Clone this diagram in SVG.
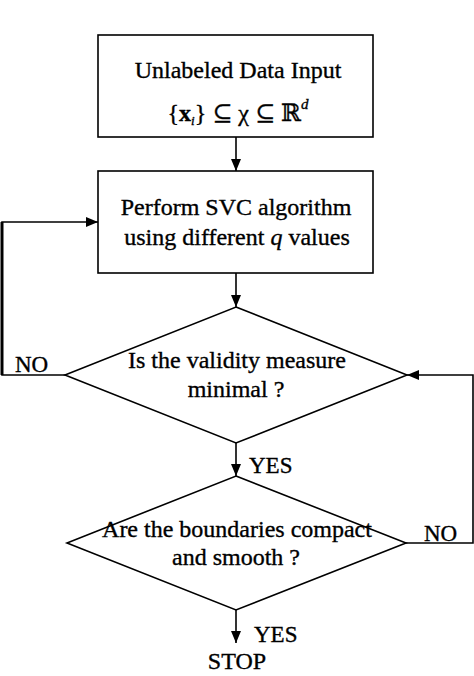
<svg xmlns="http://www.w3.org/2000/svg" width="474" height="676" viewBox="0 0 474 676">
<style>
.box{fill:#fff;stroke:#000;stroke-width:1.6}
.t{font-family:'Liberation Serif','Times New Roman',Tinos,'DejaVu Serif',serif;font-size:24px;fill:#000;stroke:#000;stroke-width:0.35;text-anchor:middle}
.lbl{font-family:'Liberation Serif','Times New Roman',Tinos,'DejaVu Serif',serif;font-size:23px;fill:#000;stroke:#000;stroke-width:0.35}
.c{fill:none;stroke:#000;stroke-width:1.6}
</style>
<defs>
<marker id="ah" viewBox="0 0 12 10" refX="12" refY="5" markerWidth="12" markerHeight="10" markerUnits="userSpaceOnUse" orient="auto">
<path d="M0,0 L12,5 L0,10 Z" fill="#000"/>
</marker>
</defs>
<rect width="474" height="676" fill="#fff"/>
<g id="connectors">
<path class="c" d="M236,137 V171" marker-end="url(#ah)"/>
<path class="c" d="M236,273 V307" marker-end="url(#ah)"/>
<path class="c" d="M236,443 V476" marker-end="url(#ah)"/>
<path class="c" d="M236,610 V643" marker-end="url(#ah)"/>
<path class="c" d="M65,375 H2 V222 H98" marker-end="url(#ah)"/>
<path d="M2,222 V375" stroke="#000" stroke-width="3" fill="none"/>
<path class="c" d="M406,543 H473 V375 H407" marker-end="url(#ah)"/>
</g>
<g id="input">
<rect class="box" x="98" y="35" width="275" height="102"/>
<text class="t" x="238" y="78">Unlabeled Data Input</text>
<text class="t" x="238" y="121" font-size="27">{<tspan font-weight="bold">x</tspan><tspan font-size="13" dy="4" font-style="italic">i</tspan><tspan dy="-4">} ⊆ χ ⊆ ℝ</tspan><tspan font-size="15" dy="-12" font-style="italic">d</tspan></text>
</g>
<g id="svc">
<rect class="box" x="98" y="171" width="275" height="102"/>
<text class="t" x="236" y="215">Perform SVC algorithm</text>
<text class="t" x="237" y="245">using different <tspan font-style="italic">q</tspan> values</text>
</g>
<g id="validity">
<polygon class="box" points="236,307 407,375 236,443 65,375"/>
<text class="t" x="237" y="368">Is the validity measure</text>
<text class="t" x="236" y="397">minimal  ?</text>
</g>
<g id="boundaries">
<polygon class="box" points="236,476 406,543 236,610 67,543"/>
<text class="t" x="237" y="537">Are the boundaries compact</text>
<text class="t" x="236" y="565">and smooth ?</text>
</g>
<g id="labels">
<text class="lbl" x="15" y="372">NO</text>
<text class="lbl" x="249" y="473">YES</text>
<text class="lbl" x="424" y="541">NO</text>
<text class="lbl" x="254" y="642">YES</text>
<text class="t" x="237" y="669">STOP</text>
</g>
</svg>
